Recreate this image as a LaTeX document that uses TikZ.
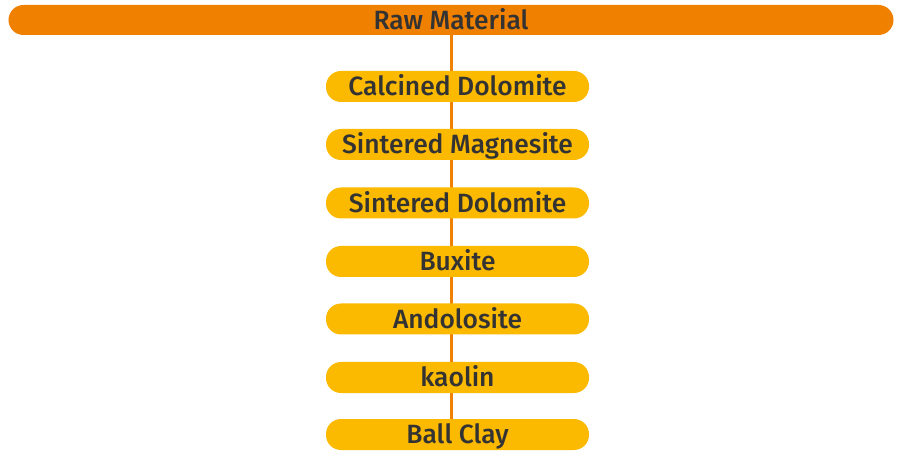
\documentclass[tikz,border=0pt]{standalone}
\usepackage{fontspec}
\setmainfont{Fira Sans}[UprightFont=* Medium]
\usepackage{xcolor}
\usetikzlibrary{shapes,positioning,calc,backgrounds}
\definecolor{barorange}{HTML}{F08000}
\definecolor{itemyellow}{HTML}{FBB900}
\definecolor{textgray}{HTML}{333333}

\begin{document}
\begin{tikzpicture}[x=1bp, y=-1bp,
    topbar/.style={fill=barorange, rounded corners=15bp, minimum width=885bp, minimum height=30bp, inner sep=0pt, text height=18.5bp, text depth=0pt, text=textgray, font=\fontsize{26.5}{28}\selectfont},
    itembox/.style={fill=itemyellow, rounded corners=15bp, minimum width=263bp, minimum height=31bp, inner sep=0pt, text height=18.5bp, text depth=0pt, text=textgray, font=\fontsize{26.5}{28}\selectfont}]
    \useasboundingbox (0,0) rectangle (898,456);
    \node[topbar] (raw) at (451,20) {Raw Material};
    \node[itembox] (calcdol) at (457.5,86.5) {Calcined Dolomite};
    \node[itembox] (sintmag) at (457.5,144.5) {Sintered Magnesite};
    \node[itembox] (sintdol) at (457.5,203) {Sintered Dolomite};
    \node[itembox] (buxite) at (457.5,261.5) {Buxite};
    \node[itembox] (andol) at (457.5,319) {Andolosite};
    \node[itembox] (kaolin) at (457.5,377.5) {kaolin};
    \node[itembox] (ballclay) at (457.5,434.5) {Ball Clay};
    \begin{scope}[on background layer]
        \draw[barorange, line width=3bp] (raw.center -| 451,0) -- (ballclay.center -| 451,0);
    \end{scope}
\end{tikzpicture}
\end{document}
